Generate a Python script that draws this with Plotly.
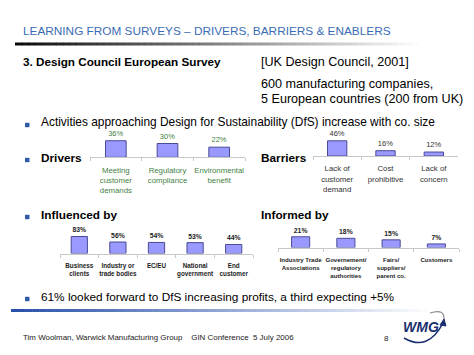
import plotly.graph_objects as go

W, H = 474, 355

# ---------------- data ----------------
driver_cats = ["Meeting<br>customer<br>demands", "Regulatory<br>compliance", "Environmental<br>benefit"]
driver_vals = [36, 30, 22]

barrier_cats = ["Lack of<br>customer<br>demand", "Cost<br>prohibitive", "Lack of<br>concern"]
barrier_vals = [46, 16, 12]

influenced_cats = ["Business<br>clients", "Industry or<br>trade bodies", "EC/EU", "National<br>government", "End<br>customer"]
influenced_vals = [83, 56, 54, 53, 44]

informed_cats = ["Industry Trade<br>Associations", "Governement/<br>regulatory<br>authorities", "Fairs/<br>suppliers/<br>parent co.", "Customers"]
informed_vals = [21, 18, 15, 7]


def X(px):
    return px / W


def Y(py):
    return 1 - py / H


BODY = "Liberation Sans, Arial, sans-serif"
NARROW = "Liberation Sans Narrow, Arial Narrow, Liberation Sans, Arial, sans-serif"
BAR_FILL = "#9999ff"
BAR_LINE = "#4a4a96"
GREEN = "#3f7f3f"

fig = go.Figure()

panels = [
    dict(cats=driver_cats, vals=driver_vals, x0=90, x1=245, base=157.3, ymax=50, pxper=0.46,
         color=GREEN, font=BODY, bold=False, width=0.40, size=7.5, ts=7.8, standoff=5),
    dict(cats=barrier_cats, vals=barrier_vals, x0=313, x1=458, base=156.0, ymax=60, pxper=0.33,
         color="#333333", font=BODY, bold=False, width=0.40, size=7.5, ts=7.8, standoff=5),
    dict(cats=influenced_cats, vals=influenced_vals, x0=60, x1=253, base=253.5, ymax=100, pxper=0.205,
         color="#222222", font=NARROW, bold=True, width=0.42, size=6.8, ts=6.3, standoff=6),
    dict(cats=informed_cats, vals=informed_vals, x0=278, x1=459, base=247.5, ymax=25, pxper=0.51,
         color="#222222", font=NARROW, bold=True, width=0.40, size=6.8, ts=6.1, standoff=6),
]

layout_axes = {}
for i, p in enumerate(panels, start=1):
    xa = "x" if i == 1 else f"x{i}"
    ya = "y" if i == 1 else f"y{i}"
    top = p["base"] - p["ymax"] * p["pxper"]
    fig.add_trace(go.Bar(
        x=p["cats"], y=p["vals"], xaxis=xa, yaxis=ya,
        width=p["width"],
        marker=dict(color=BAR_FILL, line=dict(color=BAR_LINE, width=1)),
        text=[f"{v}%" for v in p["vals"]],
        textposition="outside",
        textfont=dict(family=p["font"], size=p["size"], color=p["color"],
                      weight="bold" if p["bold"] else "normal"),
        cliponaxis=False,
        hoverinfo="skip",
    ))
    kx = "xaxis" if i == 1 else f"xaxis{i}"
    ky = "yaxis" if i == 1 else f"yaxis{i}"
    layout_axes[kx] = dict(
        domain=[X(p["x0"]), X(p["x1"])], anchor=ya, type="category",
        showline=True, linecolor="#c8c8c8", linewidth=1,
        ticks="outside", tickson="boundaries", ticklen=3, tickcolor="#c8c8c8",
        tickangle=0, ticklabelstandoff=p["standoff"],
        tickfont=dict(family=p["font"], size=p["ts"], color=p["color"],
                      weight="bold" if p["bold"] else "normal"),
        showgrid=False, zeroline=False, fixedrange=True,
    )
    layout_axes[ky] = dict(
        domain=[Y(p["base"]), Y(top)], anchor=xa, range=[0, p["ymax"]],
        visible=False, showgrid=False, zeroline=False, fixedrange=True,
    )

fig.update_layout(
    width=W, height=H, margin=dict(l=0, r=0, t=0, b=0),
    paper_bgcolor="white", plot_bgcolor="rgba(0,0,0,0)",
    showlegend=False, bargap=0.5,
    font=dict(family=BODY, color="#000000"),
    **layout_axes,
)

# ---------------- text ----------------
def txt(x, y, s, size, color="#000000", family=BODY, xanchor="left"):
    fig.add_annotation(x=X(x), y=Y(y), xref="paper", yref="paper", text=s, showarrow=False,
                       xanchor=xanchor, yanchor="middle",
                       font=dict(family=family, size=size, color=color))

txt(21, 31, "LEARNING FROM SURVEYS – DRIVERS, BARRIERS &amp; ENABLERS", 11.8, "#3a6cb4")
txt(21, 62, "<b>3. Design Council European Survey</b>", 11.7)
txt(259, 62, "[UK Design Council, 2001]", 12.6)
txt(259, 84, "600 manufacturing companies,", 12.6)
txt(259, 99, "5 European countries (200 from UK)", 12.6)
txt(39, 122, "Activities approaching Design for Sustainability (DfS) increase with co. size", 11.9)
txt(39, 158, "<b>Drivers</b>", 11.8)
txt(259, 158, "<b>Barriers</b>", 11.8)
txt(39, 215, "<b>Influenced by</b>", 11.8)
txt(259, 215, "<b>Informed by</b>", 11.8)
txt(39, 297, "61% looked forward to DfS increasing profits, a third expecting +5%", 11.8)
txt(21, 337, "Tim Woolman, Warwick Manufacturing Group &nbsp;&nbsp; GIN Conference &nbsp;5 July 2006", 7.95, "#222222")
txt(386, 338, "8", 8, "#222222", xanchor="center")

# bullets
for by in (125, 160, 217, 299):
    fig.add_shape(type="rect", xref="paper", yref="paper",
                  x0=X(25), x1=X(29.5), y0=Y(by + 2.2), y1=Y(by - 2.2),
                  fillcolor="#2f5aa8", line=dict(width=0))

# gradient rules
def gradient_line(x0, x1, y, c0, c1, width, n=60):
    step = (x1 - x0) / n
    for k in range(n):
        t = k / (n - 1)
        col = tuple(int(round(c0[j] + (c1[j] - c0[j]) * t)) for j in range(3))
        fig.add_shape(type="line", xref="paper", yref="paper",
                      x0=X(x0 + k * step), x1=X(x0 + (k + 1) * step + 0.5), y0=Y(y), y1=Y(y),
                      line=dict(color=f"rgb{col}", width=width))

gradient_line(15, 425, 44, (10, 10, 10), (255, 255, 255), 3)
gradient_line(11, 435, 310.5, (40, 80, 170), (255, 255, 255), 3)

# WMG logo
fig.add_annotation(x=X(421), y=Y(327), xref="paper", yref="paper",
                   text="<b><i>WMG</i></b>", showarrow=False, xanchor="center", yanchor="middle",
                   font=dict(family="Liberation Sans, Arial", size=14, color="#1b2f6e"))
fig.add_shape(type="path", xref="paper", yref="paper",
              path=f"M {X(404)} {Y(338)} Q {X(428)} {Y(352)} {X(443)} {Y(323)}",
              line=dict(color="#1b2f6e", width=1.6))
fig.add_shape(type="path", xref="paper", yref="paper",
              path=f"M {X(430)} {Y(313)} Q {X(445)} {Y(308)} {X(444)} {Y(320)}",
              line=dict(color="#8a8a8a", width=1.2))
fig.add_shape(type="path", xref="paper", yref="paper",
              path=f"M {X(440)} {Y(325)} L {X(444)} {Y(319)} L {X(446)} {Y(326)} Z",
              fillcolor="#1b2f6e", line=dict(color="#1b2f6e", width=1))

fig.write_html("out.html", config={"displayModeBar": False},
               post_script="document.body.style.margin='0';")
